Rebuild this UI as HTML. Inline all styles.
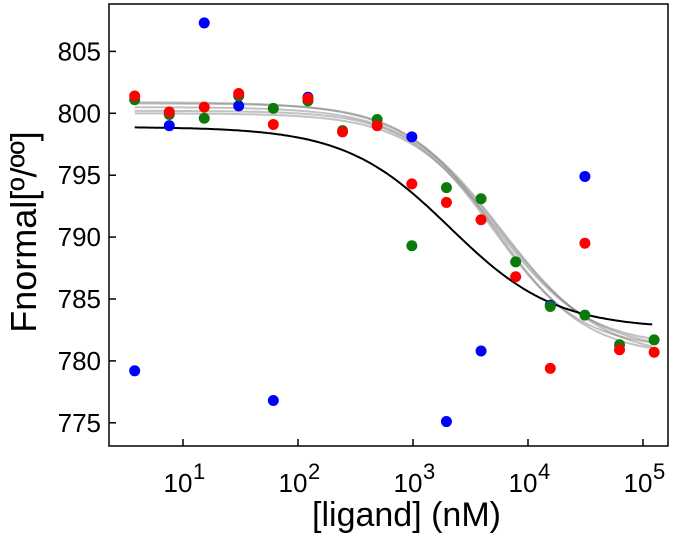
<!DOCTYPE html>
<html><head><meta charset="utf-8"><style>
body{margin:0;background:#fff}
svg{display:block;font-family:"Liberation Sans",Arial,sans-serif}
</style></head><body>
<svg id="c" width="685" height="534"></svg>
<script>
const conc=[3.8,7.6,15.3,30.5,61,122,244,488,977,1953,3906,7813,15625,31250,62500,125000];
const blue=[779.2,799.0,807.3,800.6,776.8,801.3,null,null,798.1,775.1,780.8,null,784.5,794.9,null,null];
const red=[801.4,800.1,800.5,801.6,799.1,801.2,798.5,799.0,794.3,792.8,791.4,786.8,779.4,789.5,780.9,780.7];
const green=[801.1,799.9,799.6,801.4,800.4,801.0,798.6,799.5,789.3,794.0,793.1,788.0,784.4,783.7,781.3,781.7];
const yTicks=[775,780,785,790,795,800,805];
const xTicks=[1,2,3,4,5];
// fit curves: [top, bottom, EC50, hill]
const blackFit=[798.9,782.6,2100,0.95];
const grayFits=[[800.8,780.4,5200,1.1],[800.5,780.8,5600,1.05],[800.2,781.0,5000,1.15],[800.9,780.2,5900,1.0],[800.0,781.2,5400,1.1]];
const NS="http://www.w3.org/2000/svg",svg=document.getElementById('c');
const L=109,R=668,T=4,B=446;
const xs=v=>413+(Math.log10(v)-3)*115;
const ys=v=>113.3-(v-800)*12.38;
function mk(t,a,p){const e=document.createElementNS(NS,t);for(const k in a)e.setAttribute(k,a[k]);(p||svg).appendChild(e);return e;}
function curve(f,stroke,w,op,name){let d='';for(let lx=Math.log10(3.8);lx<=Math.log10(125000)+1e-9;lx+=0.02){const x=Math.pow(10,lx);const v=f[1]+(f[0]-f[1])/(1+Math.pow(x/f[2],f[3]));d+=(d?'L':'M')+xs(x).toFixed(1)+','+ys(v).toFixed(1);}
const p=mk('path',{d:d,fill:'none',stroke:stroke,'stroke-width':w,opacity:op});

}
grayFits.forEach((f,i)=>curve(f,'#777',2,0.45,'gray-fit-'+i));
curve(blackFit,'#000',2,1,'black-fit');
function pts(arr,col,name){arr.forEach((v,i)=>{if(v===null)return;const c=mk('circle',{cx:xs(conc[i]),cy:ys(v),r:5.5,fill:col});

});}
pts(blue,'#0000ff','blue');pts(green,'#0a7a0a','green');pts(red,'#ff0000','red');
const ax=mk('rect',{x:L,y:T,width:R-L,height:B-T,fill:'none',stroke:'#000','stroke-width':1.5});


yTicks.forEach(v=>{const y=ys(v);mk('line',{x1:L,x2:L+7,y1:y,y2:y,stroke:'#000','stroke-width':1.5});
const t=mk('text',{x:L-8,y:y+9,'text-anchor':'end','font-size':26});t.textContent=v;

});
xTicks.forEach(e=>{const x=xs(Math.pow(10,e));mk('line',{x1:x,x2:x,y1:B,y2:B-7,stroke:'#000','stroke-width':1.5});
const t=mk('text',{x:x-5,y:B+46,'text-anchor':'middle','font-size':26});t.textContent='10';


const s=mk('text',{x:x+10,y:B+33,'font-size':22});s.textContent=e;

});
const xl=mk('text',{x:(L+R)/2+18,y:526,'text-anchor':'middle','font-size':34});xl.textContent='[ligand] (nM)';


const yl=mk('text',{x:0,y:0,'text-anchor':'middle','font-size':36,transform:'translate(36,232) rotate(-90)'});yl.textContent='Fnormal[º/ºº]';


</script>
</body></html>
